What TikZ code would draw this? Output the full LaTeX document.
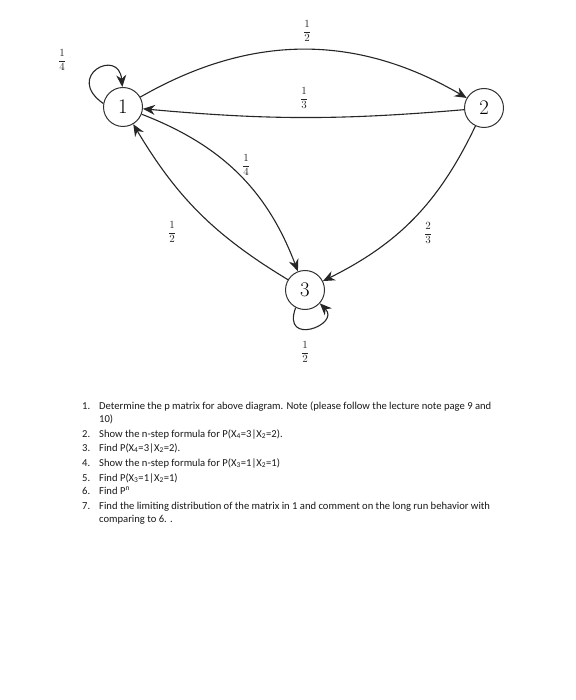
\documentclass[tikz,border=0pt]{standalone}
\usepackage{fontspec}
\setmainfont{Carlito}
\usetikzlibrary{arrows.meta}
\begin{document}
\begin{tikzpicture}[x=1pt,y=1pt,
  state/.style={circle,draw=black!80,line width=1pt,minimum size=39pt,inner sep=0pt,font=\fontsize{20}{24}\selectfont},
  arr/.style={draw=black!85,line width=1.1pt,-{Stealth[length=12pt,width=10pt]}},
  frac/.style={font=\fontsize{10.5}{13}\selectfont,inner sep=0pt,text=black!85},
  txt/.style={anchor=base west,inner sep=0pt,font=\fontsize{10.6}{12}\selectfont,text=black!90}]
\useasboundingbox (0,0) rectangle (575,-700);
\fill[white] (0,0) rectangle (575,-700);
% states
\node[state] (n1) at (123,-107) {$1$};
\node[state] (n2) at (484,-108) {$2$};
\node[state] (n3) at (305,-290) {$3$};
% edges
\draw[arr] (n1) to[bend left=30] (n2);
\draw[arr] (n2) to[bend left=5] (n1);
\draw[arr] (n1) to[bend left=24] (n3);
\draw[arr] (n3) to[bend left=14] (n1);
\draw[arr] (n2) to[bend left=19] (n3);
\draw[arr] (n1.170) .. controls +(145:48) and +(95:40) .. (n1.92);
\draw[arr] (n3.-118) .. controls +(250:42) and +(-45:30) .. (n3.-42);
% labels
\node[frac] (l12) at (307,-31) {$\displaystyle\frac{1}{2}$};
\node[frac] (l21) at (304,-98) {$\displaystyle\frac{1}{3}$};
\node[frac] (l11) at (62,-60) {$\displaystyle\frac{1}{4}$};
\node[frac] (l13) at (246,-165) {$\displaystyle\frac{1}{4}$};
\node[frac] (l31) at (172,-232) {$\displaystyle\frac{1}{2}$};
\node[frac] (l23) at (428,-233) {$\displaystyle\frac{2}{3}$};
\node[frac] (l33) at (305,-352) {$\displaystyle\frac{1}{2}$};
% questions
\node[txt] (q1n) at (82,-409) {1.};
\node[txt] (q1) at (99,-409) {Determine the p matrix for above diagram. Note (please follow the lecture note page 9 and};
\node[txt] (q1b) at (99,-422) {10)};
\node[txt] (q2n) at (82,-437) {2.};
\node[txt] (q2) at (99,-437) {Show the n-step formula for P(X\textsubscript{4}=3|X\textsubscript{2}=2).};
\node[txt] (q3n) at (82,-451) {3.};
\node[txt] (q3) at (99,-451) {Find P(X\textsubscript{4}=3|X\textsubscript{2}=2).};
\node[txt] (q4n) at (82,-466) {4.};
\node[txt] (q4) at (99,-466) {Show the n-step formula for P(X\textsubscript{3}=1|X\textsubscript{2}=1)};
\node[txt] (q5n) at (82,-481) {5.};
\node[txt] (q5) at (99,-481) {Find P(X\textsubscript{3}=1|X\textsubscript{2}=1)};
\node[txt] (q6n) at (82,-494) {6.};
\node[txt] (q6) at (99,-494) {Find P\textsuperscript{n}};
\node[txt] (q7n) at (82,-509) {7.};
\node[txt] (q7) at (99,-509) {Find the limiting distribution of the matrix in 1 and comment on the long run behavior with};
\node[txt] (q7b) at (99,-522) {comparing to 6. .};
\end{tikzpicture}
\end{document}
